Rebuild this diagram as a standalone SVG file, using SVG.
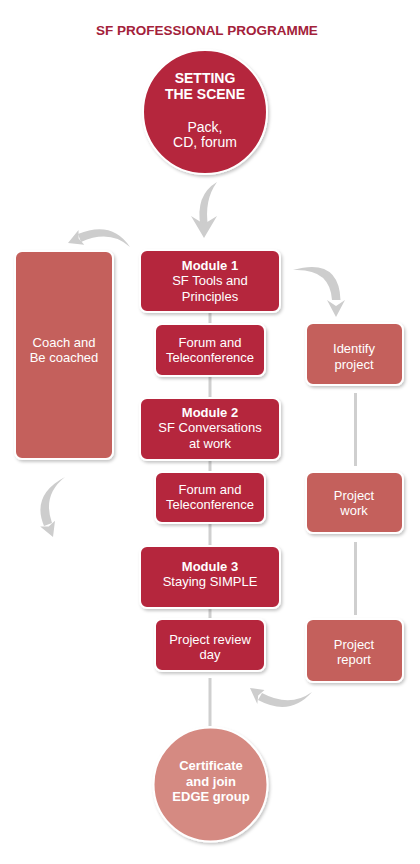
<svg xmlns="http://www.w3.org/2000/svg" width="420" height="864" viewBox="0 0 420 864">
<defs>
<filter id="sh" x="-20%" y="-20%" width="140%" height="140%">
<feDropShadow dx="1.5" dy="2" stdDeviation="1.5" flood-color="#000" flood-opacity="0.22"/>
</filter>
<style>
.t{font-family:"Liberation Sans",Arial,sans-serif;font-size:13px;fill:#fff;text-anchor:middle}
.b{font-weight:bold}
.red{fill:#b5263c;stroke:#fff;stroke-width:2;filter:url(#sh)}
.pink{fill:#c4615c;stroke:#fff;stroke-width:2;filter:url(#sh)}
.light{fill:#d58a82;stroke:#fff;stroke-width:2;filter:url(#sh)}
.ln{stroke:#cfcfcf;stroke-width:3;fill:none}
.ar{fill:#cdcdcd}
</style>
</defs>
<rect width="420" height="864" fill="#fff"/>
<text x="207" y="35" class="t b" style="fill:#a3213a;font-size:13.5px">SF PROFESSIONAL PROGRAMME</text>
<g id="connectors">
<path class="ln" d="M210,312V324M210,376V398M210,460V472M210,523V546M210,608V619M210,678V726"/>
<path class="ln" d="M355.5,393V466M355.5,542V615"/>
<g id="arrow-top"><path class="ar" d="M217,182Q195,195 200.5,226L208,226Q204,200 217,182Z"/><path class="ar" d="M191,216L204,238L217,216L204,224Z"/></g>
<g id="arrow-coach-top"><path class="ar" d="M130,247Q112,220 78,234L81,242Q110,229 130,247Z"/><path class="ar" d="M68,243L78.5,229.9L78.6,238.4L84.3,244.7Z"/></g>
<g id="arrow-project"><path class="ar" d="M293,270Q339,257 340.5,300L332,300Q330,268 293,270Z"/><path class="ar" d="M327,300L336,317L345,300L336,306Z"/></g>
<g id="arrow-coach-bottom"><path class="ar" d="M65,477Q31,495 44,526L52,523Q42,495 65,477Z"/><path class="ar" d="M53,537L55,520.7L48.7,526.4L40.2,526.5Z"/></g>
<g id="arrow-review"><path class="ar" d="M312,692Q290,717 258,700L262,693Q290,708 312,692Z"/><path class="ar" d="M250,688L264.5,689.9L258.2,695.6L257.3,704.1Z"/></g>
</g>
<g id="setting-scene">
<circle cx="205" cy="112" r="62" class="red"/>
<text x="205" y="83" class="t b" style="font-size:14px">SETTING</text>
<text x="205" y="99" class="t b" style="font-size:14px">THE SCENE</text>
<text x="205" y="132" class="t" style="font-size:14px">Pack,</text>
<text x="205" y="147" class="t" style="font-size:14px">CD, forum</text>
</g>
<g id="module1">
<rect x="140" y="250" width="140" height="62" rx="7" class="red"/>
<text x="210" y="270" class="t b">Module 1</text>
<text x="210" y="285" class="t">SF Tools and</text>
<text x="210" y="301" class="t">Principles</text>
</g>
<g id="forum1">
<rect x="155" y="324" width="110" height="52" rx="7" class="red"/>
<text x="210" y="347" class="t">Forum and</text>
<text x="210" y="362" class="t">Teleconference</text>
</g>
<g id="module2">
<rect x="140" y="398" width="140" height="62" rx="7" class="red"/>
<text x="210" y="417" class="t b">Module 2</text>
<text x="210" y="432" class="t">SF Conversations</text>
<text x="210" y="448" class="t">at work</text>
</g>
<g id="forum2">
<rect x="155" y="472" width="110" height="51" rx="7" class="red"/>
<text x="210" y="494" class="t">Forum and</text>
<text x="210" y="509" class="t">Teleconference</text>
</g>
<g id="module3">
<rect x="140" y="546" width="140" height="62" rx="7" class="red"/>
<text x="210" y="571" class="t b">Module 3</text>
<text x="210" y="586" class="t">Staying SIMPLE</text>
</g>
<g id="review">
<rect x="155" y="619" width="110" height="52" rx="7" class="red"/>
<text x="210" y="644" class="t">Project review</text>
<text x="210" y="659" class="t">day</text>
</g>
<g id="certificate">
<circle cx="210.5" cy="784.5" r="57" class="light"/>
<text x="211" y="770" class="t b">Certificate</text>
<text x="211" y="786" class="t b">and join</text>
<text x="211" y="801" class="t b">EDGE group</text>
</g>
<g id="coach">
<rect x="15" y="251" width="98" height="208" rx="7" class="pink"/>
<text x="64" y="347" class="t">Coach and</text>
<text x="64" y="362" class="t">Be coached</text>
</g>
<g id="identify">
<rect x="306" y="323" width="97" height="62" rx="7" class="pink"/>
<text x="354" y="353" class="t">Identify</text>
<text x="354" y="369" class="t">project</text>
</g>
<g id="work">
<rect x="306" y="472" width="97" height="61" rx="7" class="pink"/>
<text x="354" y="500" class="t">Project</text>
<text x="354" y="515" class="t">work</text>
</g>
<g id="report">
<rect x="306" y="619" width="97" height="63" rx="7" class="pink"/>
<text x="354" y="649" class="t">Project</text>
<text x="354" y="664" class="t">report</text>
</g>
</svg>
